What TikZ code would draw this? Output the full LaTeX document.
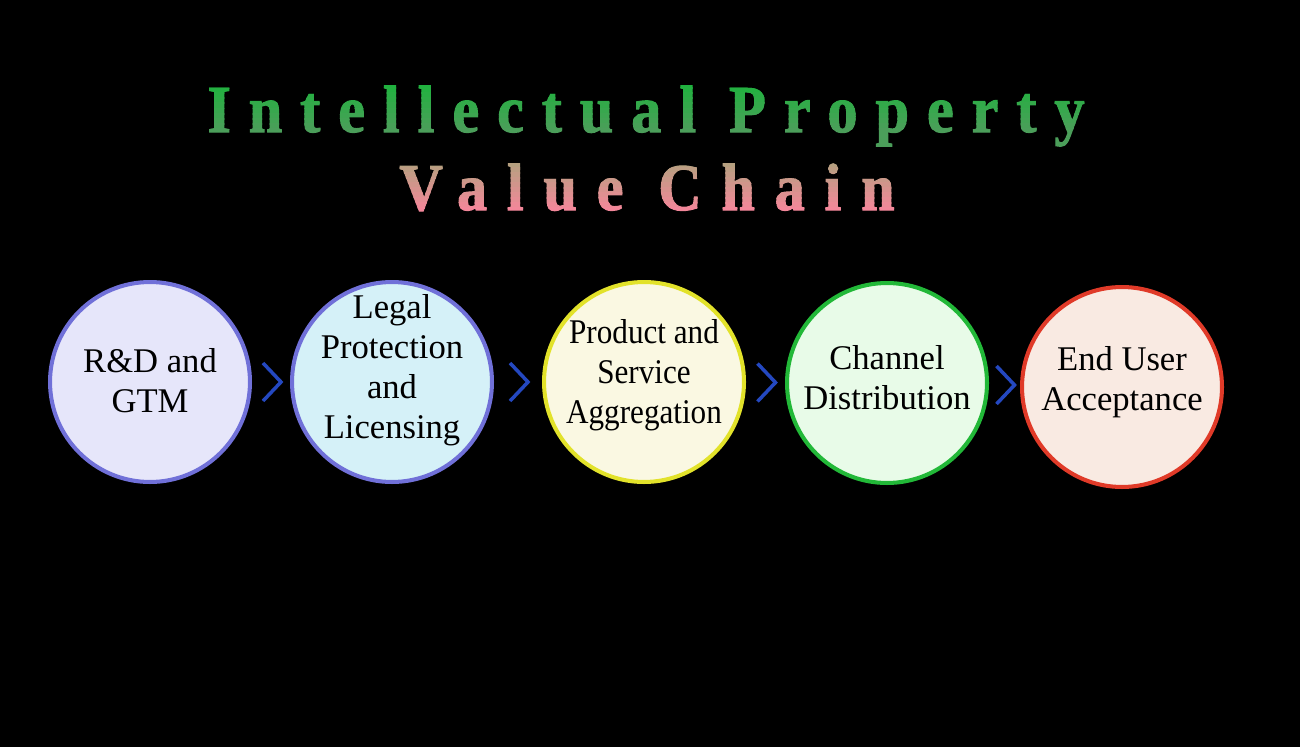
\documentclass[tikz,border=0pt]{standalone}
\usepackage{fontspec}
\setmainfont{Liberation Serif}
\newfontfamily\headfont{Liberation Serif}[FakeBold=1.6]
\usepackage{xcolor}
\usetikzlibrary{positioning}
\usetikzlibrary{calc}

\begin{document}
\begin{tikzpicture}
    [%%%%%%%%%%%%%%%%%%%%%%%%%%%%%%
        x=0.02cm, y=-0.02cm,
        disc/.style={circle, line width=2.3pt, minimum size=4cm, inner sep=0pt},
        txt/.style={align=center, text=black, inner sep=0pt,
            font=\fontsize{19.7}{22.7}\selectfont},
        chev/.style={draw=chevblue, line width=2pt, line join=miter},
        headline/.style={anchor=base, inner sep=0pt, xscale=0.9, transform shape,
            font=\headfont\bfseries\fontsize{38}{38}\selectfont}
    ]%%%%%%%%%%%%%%%%%%%%%%%%%%%%%%
\definecolor{greentop}{HTML}{1FB23E}
\definecolor{greenbot}{HTML}{4C9E5A}
\definecolor{valtop}{HTML}{B6A080}
\definecolor{valbot}{HTML}{F4879A}
\definecolor{chevblue}{HTML}{2448C0}
\definecolor{rdfill}{HTML}{E6E6FA}
\definecolor{rdline}{HTML}{7070D8}
\definecolor{legalfill}{HTML}{D5F1F8}
\definecolor{prodfill}{HTML}{FAF8E2}
\definecolor{prodline}{HTML}{E2E22A}
\definecolor{chanfill}{HTML}{E8FBE8}
\definecolor{chanline}{HTML}{22B838}
\definecolor{userfill}{HTML}{F9EAE2}
\definecolor{userline}{HTML}{E03A28}

\fill[black] (0,0) rectangle (1300,747);

% title, shaded in thin bands
\foreach \i in {0,...,9}{
    \pgfmathsetmacro\shade{11*\i}
    \begin{scope}
        \clip (100,{82+5.2*\i-30*(\i==0)}) rectangle (1200,{88+5.2*\i+30*(\i==9)});
        \node[headline, text=greenbot!\shade!greentop] (title-\i) at (646,132)
            {\addfontfeatures{LetterSpace=30}Intellectual Property};
    \end{scope}
    \begin{scope}
        \clip (300,{163+4.9*\i-30*(\i==0)}) rectangle (1000,{169+4.9*\i+30*(\i==9)});
        \node[headline, text=valbot!\shade!valtop] (subtitle-\i) at (647,210)
            {\addfontfeatures{LetterSpace=33}Value Chain};
    \end{scope}
}

\node[disc, fill=rdfill, draw=rdline] (rd) at (150,382) {};
\node[disc, fill=legalfill, draw=rdline] (legal) at (392,382) {};
\node[disc, fill=prodfill, draw=prodline] (prod) at (644,382) {};
\node[disc, fill=chanfill, draw=chanline] (chan) at (887,383) {};
\node[disc, fill=userfill, draw=userline] (user) at (1122,387) {};

\node[txt] (rd-text) at ($(rd)+(0,-1)$) {R\&D and\\GTM};
\node[txt] (legal-text) at ($(legal)+(0,-12)$) {Legal\\Protection\\and\\Licensing};
\node[txt, xscale=0.9, transform shape] (prod-text) at ($(prod)+(0,-7)$) {Product and\\Service\\Aggregation};
\node[txt] (chan-text) at ($(chan)+(0,-5)$) {Channel\\Distribution};
\node[txt] (user-text) at ($(user)+(0,-5)$) {End User\\Acceptance};

\foreach \a/\b in {rd/legal,legal/prod,prod/chan,chan/user}{
    \draw[chev] ($(\a.east)!0.5!(\b.west)+(-8,-19)$) -- ++(18,19) -- ++(-18,19);
}

\end{tikzpicture}
\end{document}
